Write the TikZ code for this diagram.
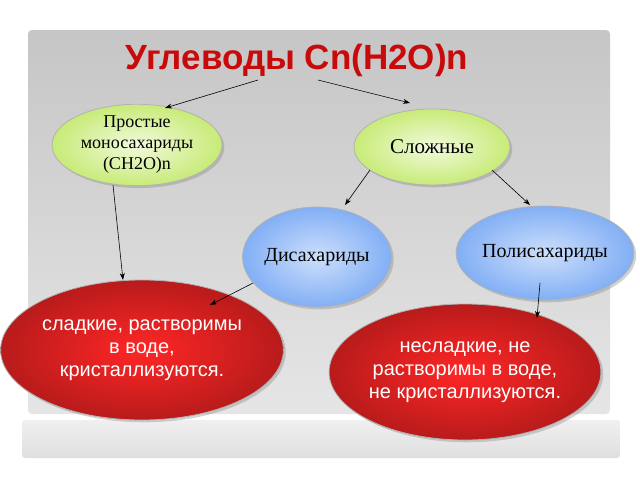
\documentclass[tikz,border=0pt]{standalone}
\usepackage{fontspec}
\setmainfont{Liberation Serif}
\setsansfont{Liberation Sans}
\usetikzlibrary{shapes.geometric,arrows.meta,shadows}
\definecolor{zelen}{RGB}{200,235,120}
\definecolor{sinij}{RGB}{130,175,245}
\definecolor{krasn}{RGB}{205,30,30}
\definecolor{titul}{RGB}{200,10,10}
\tikzset{
  oval/.style={ellipse, draw=gray!60, line width=0.8pt, align=center, inner sep=0pt, drop shadow={opacity=0.35}},
  simple/.style={oval, inner color=white!75!zelen, outer color=zelen, font=\fontsize{18}{21}\selectfont},
  disa/.style={oval, inner color=white!60!sinij, outer color=sinij, font=\fontsize{20}{22}\selectfont},
  prop/.style={oval, inner color=red!85!white, outer color=krasn!90!black, text=white, font=\sffamily\fontsize{20}{23}\selectfont},
  link/.style={-{Stealth[length=7pt,width=5pt]}, black, line width=0.6pt},
}
\begin{document}
\begin{tikzpicture}[x=1pt,y=-1pt]
\useasboundingbox (0,0) rectangle (640,480);
\fill[white] (0,0) rectangle (640,480);
% panels
\shade[rounded corners=4pt, top color=gray!45, bottom color=gray!20] (28,30) rectangle (610,414);
\shade[rounded corners=3pt, top color=gray!12, bottom color=gray!25] (22,420) rectangle (620,458);
% title
\node (titel) [text=titul, font=\sffamily\bfseries\fontsize{35}{38}\selectfont] at (297,60) {Углеводы Cn(H2O)n};
% ovals
\node (prost) [simple, minimum width=170, minimum height=80] at (137,145) {Простые\\моносахариды\\(CH2O)n};
\node (slozh) [simple, minimum width=156, minimum height=76, font=\fontsize{21}{23}\selectfont] at (432,147) {Сложные};
\node (disah) [disa, minimum width=144, minimum height=100] at (317,257) {Дисахариды};
\node (polis) [disa, minimum width=146, minimum height=94] at (545,253) {Полисахариды};
\node (sladk) [prop, minimum width=216, minimum height=140] at (142,350) {сладкие, растворимы\\в воде,\\кристаллизуются.};
\node (nesl) [prop, minimum width=230, minimum height=136] at (465,372) {несладкие, не\\растворимы в воде,\\не кристаллизуются.};
% arrows
\coordinate (t1) at (258,80);
\coordinate (t2) at (318,80);
\draw[link] (t1) -- (165,108);
\draw[link] (t2) -- (410,103);
\draw[link] (370,170) -- (345,205);
\draw[link] (492,170) -- (530,205);
\draw[link] (113,185) -- (123,280);
\draw[link] (253,283) -- (210,305);
\draw[link] (540,283) -- (537,318);
\end{tikzpicture}
\end{document}
